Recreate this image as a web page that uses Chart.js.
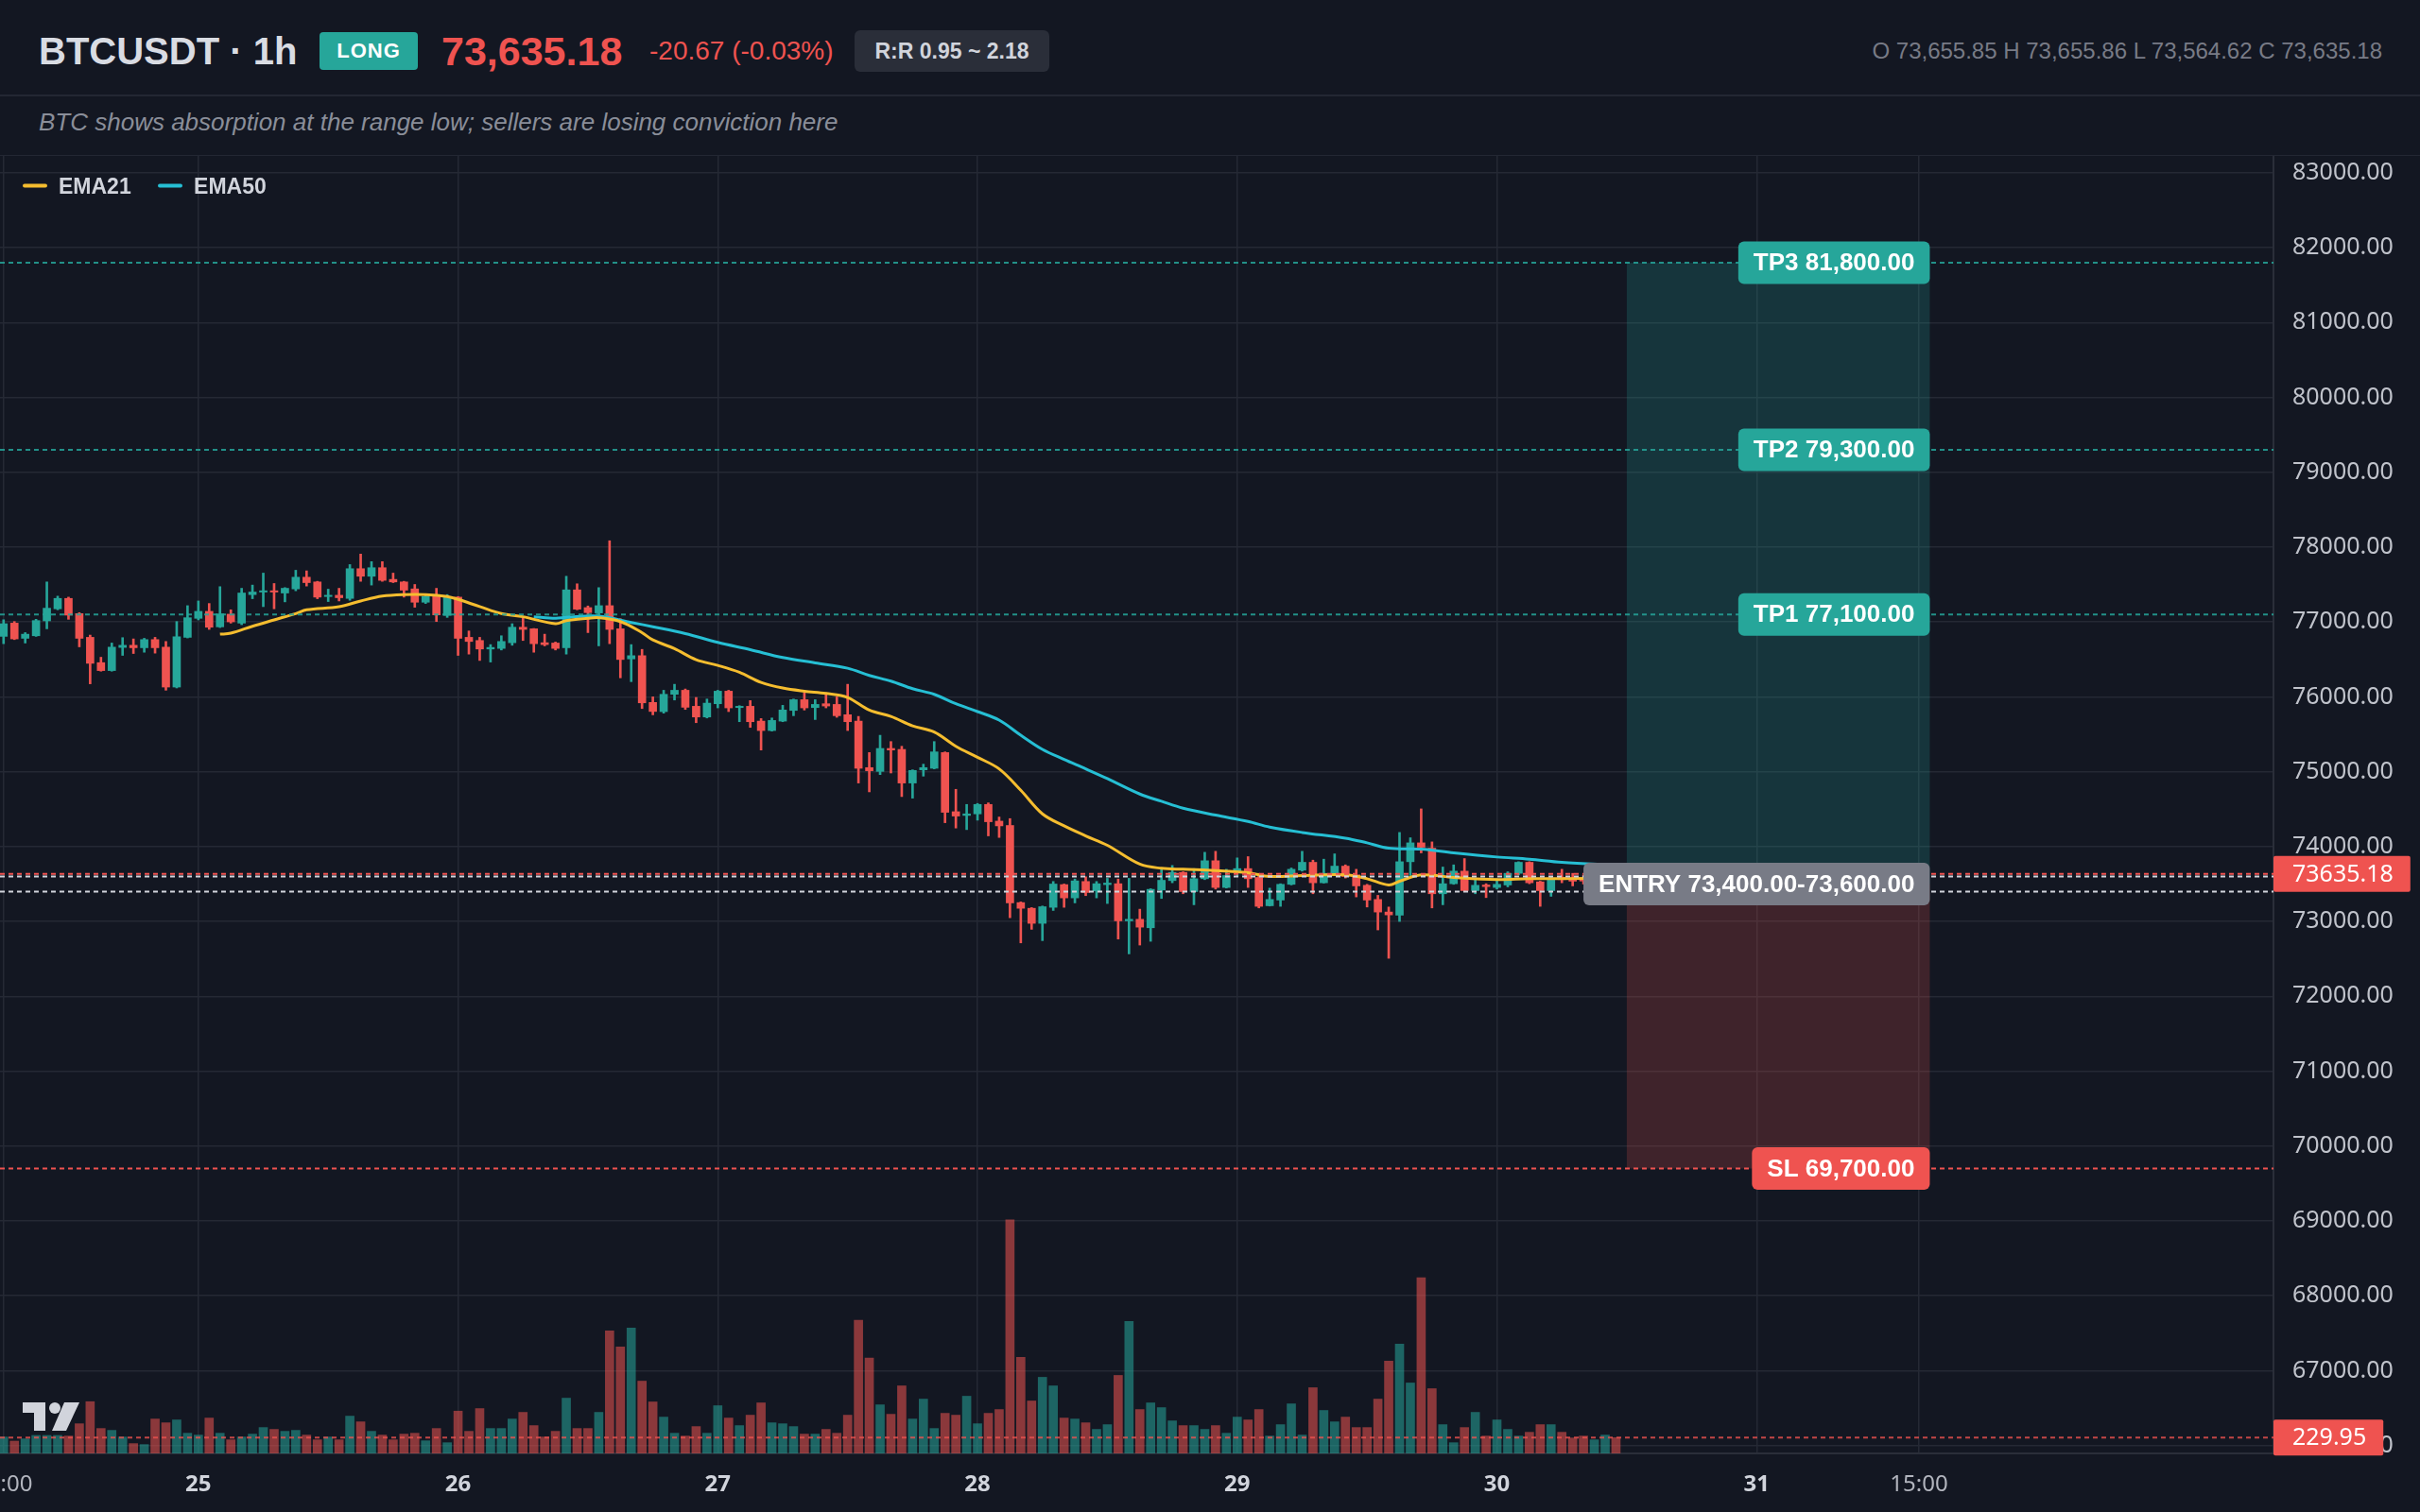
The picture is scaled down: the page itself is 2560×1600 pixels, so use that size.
<!DOCTYPE html>
<html>
<head>
<meta charset="utf-8">
<title>BTCUSDT 1h</title>
<script src="https://cdn.jsdelivr.net/npm/chart.js@4.4.1/dist/chart.umd.min.js"></script>
<style>
  html, body { margin: 0; padding: 0; background: #131722; width: 2560px; height: 1600px; overflow: hidden;
    font-family: "Liberation Sans", Arial, sans-serif; }
  #header { position: absolute; left: 0; top: 0; width: 2560px; height: 100px; border-bottom: 2px solid #232733; }
  #subrow { position: absolute; left: 0; top: 102px; width: 2560px; height: 62px; border-bottom: 1px solid #232733; }
  .mid { position: absolute; top: 54px; transform: translateY(-50%); white-space: nowrap; }
  #title { left: 41px; font-size: 40px; font-weight: bold; color: #d9dce3; }
  #badge { left: 338px; width: 104px; height: 40px; line-height: 40px; text-align: center; background: #26a69a;
    color: #fff; font-size: 22px; font-weight: bold; border-radius: 4px; letter-spacing: 1px; }
  #price { left: 467px; font-size: 43px; font-weight: bold; color: #ef5350; }
  #change { left: 687px; font-size: 28px; color: #ef5350; }
  #rr { left: 904px; width: 206px; height: 44px; line-height: 44px; text-align: center; background: #2a2e39;
    color: #d1d4dc; font-size: 23px; font-weight: bold; border-radius: 6px; }
  #ohlc { right: 40px; font-size: 24px; color: #787b86; }
  #note { position: absolute; left: 41px; top: 27px; transform: translateY(-50%); font-size: 26px;
    font-style: italic; color: #8a8e99; white-space: nowrap; }
  #wrap { position: absolute; left: 0; top: 165px; width: 2560px; height: 1435px; }
  #legend { position: absolute; left: 24px; top: 197px; transform: translateY(-50%); font-size: 23px;
    font-weight: bold; color: #d1d4dc; white-space: nowrap; }
  #legend span.sw { display: inline-block; width: 26px; height: 4px; border-radius: 2px; vertical-align: middle;
    margin-right: 12px; position: relative; top: -2px; }
  #legend span.item { margin-right: 22px; }
</style>
</head>
<body>
<div id="header">
  <div class="mid" id="title">BTCUSDT · 1h</div>
  <div class="mid" id="badge">LONG</div>
  <div class="mid" id="price"></div>
  <div class="mid" id="change"></div>
  <div class="mid" id="rr"></div>
  <div class="mid" id="ohlc"></div>
</div>
<div id="subrow">
  <div id="note">BTC shows absorption at the range low; sellers are losing conviction here</div>
</div>
<div id="wrap"><canvas id="grafico"></canvas></div>
<div id="legend">
  <span class="item"><span class="sw" style="background:#f5bd2f"></span>EMA21</span>
  <span class="item"><span class="sw" style="background:#26bfd4"></span>EMA50</span>
</div>

<script>
// hourly candles, hour 0 = 24th 06:00
const opens = [76808,76985,76782,76816,77015,77176,77315,77112,76795,76457,
  76351,76660,76689,76656,76765,76664,76131,76795,77049,77142,
  76935,77104,76985,77366,77400,77417,77387,77442,77598,77535,
  77340,77357,77315,77712,77611,77725,77569,77535,77442,77264,
  77357,77087,77332,76795,76753,76639,76647,76723,76930,76909,
  76723,76719,76656,77429,77192,77121,77218,76909,76507,76550,
  75925,75803,76034,76088,75874,75731,75908,76076,75857,75874,
  75676,75550,75676,75819,75962,75857,75908,75899,75761,75676,
  75055,75004,75311,75298,74849,75025,75046,75256,74466,74416,
  74437,74563,74340,74282,73252,73176,72975,73189,73492,73315,
  73534,73408,73492,73504,73008,73029,72916,73420,73546,73655,
  73399,73571,73811,73454,73664,73706,73588,73210,73286,73496,
  73685,73790,73517,73643,73739,73622,73483,73294,73126,73084,
  73798,74050,73979,73370,73504,73672,73412,73487,73454,73487,
  73643,73790,73529,73412,73588,73571,73571,73540,73600,73655.85];

const highs = [77030,77006,76858,77036,77535,77345,77332,77125,76825,76529,
  76719,76791,76774,76782,76795,76740,77006,77218,77281,77247,
  77472,77163,77450,77493,77653,77514,77459,77691,77683,77543,
  77438,77450,77767,77907,77806,77806,77653,77543,77501,77374,
  77450,77366,77340,76880,76795,76698,76816,76977,77049,76913,
  76837,76732,77611,77510,77214,77459,78085,77044,76698,76634,
  76000,76088,76168,76105,75992,75971,76088,76088,75882,75950,
  75710,75718,75887,75971,76055,75962,76055,76000,76168,75739,
  75256,75487,75403,75340,75025,75101,75403,75265,74765,74563,
  74576,74584,74395,74374,73261,73185,73206,73534,73500,73567,
  73597,73534,73576,73567,73576,73164,73437,73697,73748,73664,
  73706,73924,73937,73697,73849,73866,73643,73445,73504,73714,
  73937,73819,73832,73903,73756,73697,73496,73349,73193,74189,
  74118,74504,74063,73727,73756,73840,73559,73504,73571,73664,
  73798,73798,73538,73601,73697,73643,73620,73640,73690,73655.86];

const lows = [76710,76765,76719,76808,76909,77163,77036,76668,76174,76343,
  76343,76554,76579,76596,76584,76089,76119,76787,77028,76901,
  76926,76985,76964,77311,77205,77176,77269,77417,77480,77311,
  77273,77281,77290,77543,77493,77543,77526,77332,77197,77247,
  77006,77061,76554,76571,76486,76465,76626,76689,76753,76596,
  76681,76626,76571,77163,76858,76681,76710,76254,76203,75844,
  75760,75782,75958,75832,75655,75718,75853,75803,75668,75592,
  75290,75542,75668,75748,75824,75697,75853,75727,75550,74849,
  74731,74962,74983,74668,74647,74941,75038,74319,74248,74227,
  74353,74143,74122,73050,72714,72895,72744,73147,73189,73248,
  73345,73315,73240,72765,72567,72685,72735,73307,73517,73370,
  73223,73559,73433,73446,73601,73454,73181,73206,73202,73488,
  73672,73370,73513,73630,73580,73328,73193,72887,72508,73000,
  73613,73916,73181,73223,73496,73403,73370,73319,73433,73462,
  73622,73504,73202,73336,73517,73475,73500,73520,73580,73564.62];

const closes = [76977,76774,76837,77019,77184,77315,77091,76782,76448,76351,
  76664,76689,76656,76765,76656,76131,76803,77057,77142,76930,
  77108,77002,77387,77400,77417,77400,77450,77598,77526,77332,
  77357,77324,77712,77611,77725,77556,77535,77425,77264,77340,
  77095,77340,76782,76740,76639,76660,76740,76930,76901,76710,
  76698,76647,77429,77171,77125,77218,76901,76499,76550,75920,
  75805,76034,76088,75861,75731,75916,76076,75853,75874,75668,
  75550,75685,75824,75962,75853,75899,75878,75748,75668,75046,
  75013,75311,75290,74849,75017,75055,75265,74458,74408,74437,
  74563,74332,74277,73248,73176,72975,73197,73500,73315,73542,
  73387,73504,73513,73008,73029,72924,73429,73550,73655,73399,
  73571,73811,73454,73613,73706,73571,73202,73294,73496,73697,
  73790,73517,73643,73739,73601,73475,73286,73126,73088,73798,
  74050,73992,73370,73504,73672,73412,73483,73466,73496,73643,
  73790,73517,73412,73580,73559,73538,73540,73600,73655.85,73635.18];

const volumes = [239,179,212,262,262,262,253,432,754,363,
  336,239,143,129,501,446,488,294,267,515,
  294,198,239,281,377,350,322,336,267,198,
  239,198,543,460,322,267,198,281,294,184,
  363,156,616,322,653,363,363,501,598,405,
  239,322,805,363,363,598,1785,1550,1826,1053,
  750,529,294,253,391,294,695,515,405,557,
  736,446,432,391,281,281,350,294,557,1941,
  1389,708,570,984,501,791,363,584,557,833,
  432,584,639,3404,1398,764,1109,984,515,501,
  446,350,419,1136,1923,639,736,667,474,405,
  405,350,405,294,529,488,639,253,419,722,
  267,957,626,460,529,377,377,791,1343,1592,
  1026,2558,943,419,156,377,598,253,488,350,
  253,308,419,419,308,225,253,198,267,229.95];

// EMA lines at sample hours
const ema21Hours = [20,21,23,25,27,28,31,33,35,37,39,41,42,44,46,48,51,52,54,55,57,59,60,62,64,66,68,70,72,74,
  76,78,80,82,84,86,88,90,92,94,96,98,100,102,105,107,109,112,115,117,120,124,126,128,129,131,134,138,141,144,149];
const ema21Values = [76837,76850,76943,77028,77112,77163,77205,77281,77345,77366,77366,77340,77302,77205,77112,77070,
  76977,77019,77049,77057,77006,76858,76760,76643,76496,76420,76328,76193,76118,76076,
  76046,75992,75824,75739,75613,75529,75340,75193,75038,74752,74437,74277,74143,74017,73765,73710,
  73697,73681,73651,73601,73613,73622,73571,73487,73538,73622,73588,73559,73571,73571,73580];
const ema50Hours = [49,51,52,55,58,60,63,66,69,72,75,78,80,82,84,86,88,90,92,94,96,98,100,102,105,107,
  109,112,115,117,120,124,126,128,131,134,138,141,144,149];
const ema50Values = [77070,77049,77061,77078,76994,76937,76845,76727,76630,76525,76454,76382,76286,76210,76109,
  76034,75908,75803,75689,75487,75298,75164,75038,74908,74702,74605,
  74513,74420,74336,74261,74189,74113,74050,73979,73966,73916,73861,73832,73790,73755];

// time axis ticks (hours from start)
const tickHours = [0, 18, 42, 66, 90, 114, 138, 162, 177];
const tickLabels = ['06:00', '25', '26', '27', '28', '29', '30', '31', '15:00'];

// trade plan
const targetNames = ['TP3', 'TP2', 'TP1'];
const targetPrices = [81800, 79300, 77100];
const entryRange = [73400, 73600];
const stopLoss = 69700;
const planHours = [150, 178];

const priceTicks = [66000,67000,68000,69000,70000,71000,72000,73000,74000,75000,76000,77000,78000,79000,80000,81000,82000,83000];

const verde = '#26a69a';
const vermelho = '#ef5350';

function fmt(v) {
  return v.toLocaleString('en-US', { minimumFractionDigits: 2, maximumFractionDigits: 2 });
}

function preencheCabecalho() {
  const n = closes.length - 1;
  const chg = closes[n] - closes[n - 1];
  const pct = chg / closes[n - 1] * 100;
  const entryMid = (entryRange[0] + entryRange[1]) / 2;
  const risk = entryMid - stopLoss;
  const rrMin = (targetPrices[2] - entryMid) / risk;
  const rrMax = (targetPrices[0] - entryMid) / risk;
  document.getElementById('price').textContent = fmt(closes[n]);
  document.getElementById('change').textContent = chg.toFixed(2) + ' (' + pct.toFixed(2) + '%)';
  document.getElementById('rr').textContent = 'R:R ' + rrMin.toFixed(2) + ' ~ ' + rrMax.toFixed(2);
  document.getElementById('ohlc').textContent = 'O ' + fmt(opens[n]) + ' H ' + fmt(highs[n]) +
    ' L ' + fmt(lows[n]) + ' C ' + fmt(closes[n]);
}

function caixa(ctx, x, y, w, h, r, cor) {
  ctx.beginPath();
  ctx.roundRect(x, y, w, h, r);
  ctx.fillStyle = cor;
  ctx.fill();
}

function linhaH(ctx, area, y, cor) {
  ctx.save();
  ctx.strokeStyle = cor;
  ctx.lineWidth = 2;
  ctx.setLineDash([5, 4]);
  ctx.beginPath();
  ctx.moveTo(area.left, y);
  ctx.lineTo(area.right, y);
  ctx.stroke();
  ctx.restore();
}

function rotulo(ctx, texto, xRight, yc, cor) {
  ctx.font = 'bold 26px "Liberation Sans", Arial, sans-serif';
  const w = ctx.measureText(texto).width + 32;
  caixa(ctx, xRight - w, yc - 22.5, w, 45, 6, cor);
  ctx.fillStyle = '#ffffff';
  ctx.textAlign = 'left';
  ctx.textBaseline = 'middle';
  ctx.fillText(texto, xRight - w + 16, yc + 1);
}

function rotuloEixo(ctx, texto, x, yc) {
  ctx.font = '25px "Noto Sans", sans-serif';
  const w = ctx.measureText(texto).width + 38;
  caixa(ctx, x, yc - 19, w, 38, 2, vermelho);
  ctx.fillStyle = '#ffffff';
  ctx.textAlign = 'left';
  ctx.textBaseline = 'middle';
  ctx.fillText(texto, x + 20, yc + 1);
}

// no automatic inset of the plot area
function semPadding(s) {
  s.paddingLeft = 0; s.paddingRight = 0; s.paddingTop = 0; s.paddingBottom = 0;
}

const planoPlugin = {
  id: 'plano',
  beforeDatasetsDraw(chart) {
    const { ctx, scales: { x, y } } = chart;
    const x0 = x.getPixelForValue(planHours[0]);
    const x1 = x.getPixelForValue(planHours[1]);
    const yMid = y.getPixelForValue((entryRange[0] + entryRange[1]) / 2);
    const yTop = y.getPixelForValue(targetPrices[0]);
    const ySl = y.getPixelForValue(stopLoss);
    ctx.save();
    ctx.fillStyle = 'rgba(38,166,154,0.22)';
    ctx.fillRect(x0, yTop, x1 - x0, yMid - yTop);
    ctx.fillStyle = 'rgba(239,83,80,0.2)';
    ctx.fillRect(x0, yMid, x1 - x0, ySl - yMid);
    ctx.restore();
  },
  afterDatasetsDraw(chart) {
    const { ctx, chartArea, scales: { y, yv } } = chart;
    const n = closes.length - 1;
    targetPrices.forEach(p => linhaH(ctx, chartArea, y.getPixelForValue(p), 'rgba(38,166,154,0.85)'));
    linhaH(ctx, chartArea, y.getPixelForValue(entryRange[1]), '#d1d4dc');
    linhaH(ctx, chartArea, y.getPixelForValue(entryRange[0]), '#d1d4dc');
    linhaH(ctx, chartArea, y.getPixelForValue(closes[n]), vermelho);
    linhaH(ctx, chartArea, y.getPixelForValue(stopLoss), vermelho);
    linhaH(ctx, chartArea, yv.getPixelForValue(volumes[n]), 'rgba(239,83,80,0.8)');
  },
  afterDraw(chart) {
    const { ctx, chartArea, scales: { x, y, yv } } = chart;
    const n = closes.length - 1;
    const xr = x.getPixelForValue(planHours[1]);
    ctx.save();
    targetPrices.forEach((p, i) => rotulo(ctx, targetNames[i] + ' ' + fmt(p), xr, y.getPixelForValue(p), verde));
    rotulo(ctx, 'ENTRY ' + fmt(entryRange[0]) + '-' + fmt(entryRange[1]), xr,
      y.getPixelForValue((entryRange[0] + entryRange[1]) / 2), '#787b86');
    rotulo(ctx, 'SL ' + fmt(stopLoss), xr, y.getPixelForValue(stopLoss), vermelho);

    rotuloEixo(ctx, closes[n].toFixed(2), chartArea.right, y.getPixelForValue(closes[n]));
    rotuloEixo(ctx, volumes[n].toFixed(2), chartArea.right, yv.getPixelForValue(volumes[n]));

    // logo
    const lx = chartArea.left, ly = chartArea.bottom;
    ctx.fillStyle = '#d1d4dc';
    ctx.fillRect(lx + 24, ly - 54, 24, 11);
    ctx.fillRect(lx + 36, ly - 54, 12, 30);
    ctx.beginPath();
    ctx.arc(lx + 58, ly - 48, 6, 0, Math.PI * 2);
    ctx.fill();
    ctx.beginPath();
    ctx.moveTo(lx + 68, ly - 54);
    ctx.lineTo(lx + 84, ly - 54);
    ctx.lineTo(lx + 70, ly - 24);
    ctx.lineTo(lx + 55, ly - 24);
    ctx.closePath();
    ctx.fill();
    ctx.restore();
  }
};

function geraGrafico() {
  const canva = document.getElementById('grafico');
  const corCandle = closes.map((c, i) => c >= opens[i] ? verde : vermelho);
  const corVolume = closes.map((c, i) => c >= opens[i] ? 'rgba(38,166,154,0.55)' : 'rgba(239,83,80,0.55)');
  const gridColor = '#252934';

  Chart.defaults.font.family = '"Noto Sans", sans-serif';

  new Chart(canva, {
    type: 'bar',
    data: {
      datasets: [
        {
          type: 'line', label: 'EMA21',
          data: ema21Hours.map((h, i) => ({ x: h, y: ema21Values[i] })),
          borderColor: '#f5bd2f', borderWidth: 3, pointRadius: 0, tension: 0.35, yAxisID: 'y', order: 1
        },
        {
          type: 'line', label: 'EMA50',
          data: ema50Hours.map((h, i) => ({ x: h, y: ema50Values[i] })),
          borderColor: '#26bfd4', borderWidth: 3, pointRadius: 0, tension: 0.35, yAxisID: 'y', order: 1
        },
        {
          label: 'corpo',
          data: opens.map((o, i) => ({ x: i, y: [o, closes[i]] })),
          backgroundColor: corCandle, barThickness: 8, grouped: false, yAxisID: 'y', order: 2
        },
        {
          label: 'pavio',
          data: lows.map((l, i) => ({ x: i, y: [l, highs[i]] })),
          backgroundColor: corCandle, barThickness: 2, grouped: false, yAxisID: 'y', order: 3
        },
        {
          label: 'volume',
          data: volumes.map((v, i) => ({ x: i, y: v })),
          backgroundColor: corVolume, barThickness: 9, grouped: false, yAxisID: 'yv', order: 4
        }
      ]
    },
    options: {
      responsive: true,
      maintainAspectRatio: false,
      animation: false,
      layout: { padding: 0, autoPadding: false },
      plugins: { legend: { display: false }, tooltip: { enabled: false } },
      events: [],
      scales: {
        x: {
          type: 'linear', min: -0.33, max: 209.76, offset: false,
          grid: { color: gridColor, lineWidth: 1.5, drawTicks: false, offset: false },
          border: { color: '#2a2e39', width: 2 },
          afterBuildTicks: s => { s.ticks = tickHours.map(v => ({ value: v })); },
          afterFit: s => { s.height = 62; semPadding(s); },
          ticks: {
            autoSkip: false, maxRotation: 0, padding: 19,
            color: c => (tickLabels[c.index] || '').includes(':') ? '#b2b5be' : '#d1d4dc',
            font: c => ({ size: 24, weight: (tickLabels[c.index] || '').includes(':') ? 'normal' : 'bold' }),
            callback: (v, i) => tickLabels[i]
          }
        },
        y: {
          position: 'right', min: 65895, max: 83225,
          grid: { color: gridColor, lineWidth: 1.5, drawTicks: false },
          border: { color: '#2a2e39', width: 2 },
          afterBuildTicks: s => { s.ticks = priceTicks.map(v => ({ value: v })); },
          afterFit: s => { s.width = 155; semPadding(s); },
          ticks: { padding: 20, color: '#c0c3cb', font: { size: 25 }, callback: v => v.toFixed(2) }
        },
        yv: { display: false, min: 0, max: 18900 }
      }
    },
    plugins: [planoPlugin]
  });
}

preencheCabecalho();
geraGrafico();
</script>
</body>
</html>
